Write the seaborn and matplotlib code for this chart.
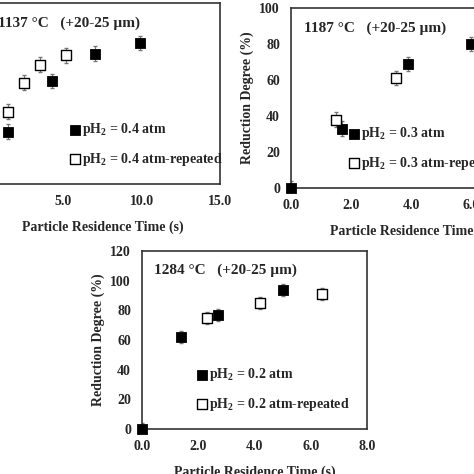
import matplotlib
matplotlib.use("Agg")
import matplotlib.pyplot as plt
import seaborn as sns

sns.set_style("white")
plt.rcParams['font.family'] = ['Liberation Serif', 'DejaVu Serif']
plt.rcParams['font.weight'] = 'bold'
plt.rcParams['mathtext.fontset'] = 'custom'
plt.rcParams['mathtext.rm'] = 'Liberation Serif:bold'
plt.rcParams['mathtext.it'] = 'Liberation Serif:bold'

# 1137 °C, pH2 = 0.4
t1_f = [1.5, 4.3, 7.0, 9.9]
r1_f = [29, 57, 72, 78]
t1_o = [1.5, 2.5, 3.5, 5.2]
r1_o = [40, 56, 66, 71]
# 1187 °C, pH2 = 0.3
t2_f = [0.0, 1.7, 3.9, 6.0]
r2_f = [0, 33, 69, 80]
t2_o = [1.5, 3.5]
r2_o = [38, 61]
# 1284 °C, pH2 = 0.2
t3_f = [0.0, 1.4, 2.7, 5.0]
r3_f = [0, 62, 77, 94]
t3_o = [2.3, 4.2, 6.4]
r3_o = [75, 85, 91]
err = 4

fig = plt.figure(figsize=(4.74, 4.74), dpi=100)
W = 474.0
def box(l, t, r, b):
    return [l / W, 1 - b / W, (r - l) / W, (b - t) / W]

panels = [
    dict(rect=box(-15, 3, 220, 184), xlim=(0, 15), ylim=(0, 100),
         xt=[0, 5, 10, 15], yt=[0, 20, 40, 60, 80, 100],
         f=(t1_f, r1_f), o=(t1_o, r1_o), title="1137 °C   (+20-25 µm)", p="0.4"),
    dict(rect=box(291, 8, 531, 188), xlim=(0, 8), ylim=(0, 100),
         xt=[0, 2, 4, 6, 8], yt=[0, 20, 40, 60, 80, 100],
         f=(t2_f, r2_f), o=(t2_o, r2_o), title="1187 °C   (+20-25 µm)", p="0.3"),
    dict(rect=box(142, 251, 367, 429), xlim=(0, 8), ylim=(0, 120),
         xt=[0, 2, 4, 6, 8], yt=[0, 20, 40, 60, 80, 100, 120],
         f=(t3_f, r3_f), o=(t3_o, r3_o), title="1284 °C   (+20-25 µm)", p="0.2"),
]

for i, P in enumerate(panels):
    ax = fig.add_axes(P['rect'])
    tf, rf = P['f']
    to, ro = P['o']
    ax.errorbar(tf, rf, yerr=err, fmt='none', ecolor='#777777', elinewidth=0.8, capsize=1.5, zorder=2)
    ax.errorbar(to, ro, yerr=err, fmt='none', ecolor='#777777', elinewidth=0.8, capsize=1.5, zorder=2)
    sns.scatterplot(x=tf, y=rf, ax=ax, marker='s', s=55, color='black', edgecolor='black',
                    label=f"pH$_2$ = {P['p']} atm", zorder=3, clip_on=False)
    sns.scatterplot(x=to, y=ro, ax=ax, marker='s', s=55, facecolor='white', edgecolor='black',
                    linewidth=1.0, label=f"pH$_2$ = {P['p']} atm-repeated", zorder=3, clip_on=False)
    ax.set_xlim(*P['xlim'])
    ax.set_ylim(*P['ylim'])
    ax.set_xticks(P['xt'])
    ax.set_xticklabels([f"{v:.1f}" for v in P['xt']])
    ax.set_yticks(P['yt'])
    ax.tick_params(direction='in', length=3, labelsize=10, width=0.8)
    ax.tick_params(axis='x', pad=8)
    ax.tick_params(axis='y', pad=8)
    for s in ax.spines.values():
        s.set_color('#333333'); s.set_linewidth(1.2)
    ax.set_xlabel("Particle Residence Time (s)", fontsize=10, fontweight='bold', labelpad=9)
    ax.set_ylabel("Reduction Degree (%)", fontsize=10, fontweight='bold', labelpad=4)
    ax.text(0.055, 0.89, P['title'], transform=ax.transAxes, fontsize=11,
            fontweight='bold', va='center')
    ax.legend(loc='lower left', bbox_to_anchor=(0.18 if i else 0.3, 0.02), frameon=False,
              handletextpad=0.0, handlelength=1.0, labelspacing=0.9,
              prop={'weight': 'bold', 'size': 10})

fig.savefig("out.png", dpi=100)
